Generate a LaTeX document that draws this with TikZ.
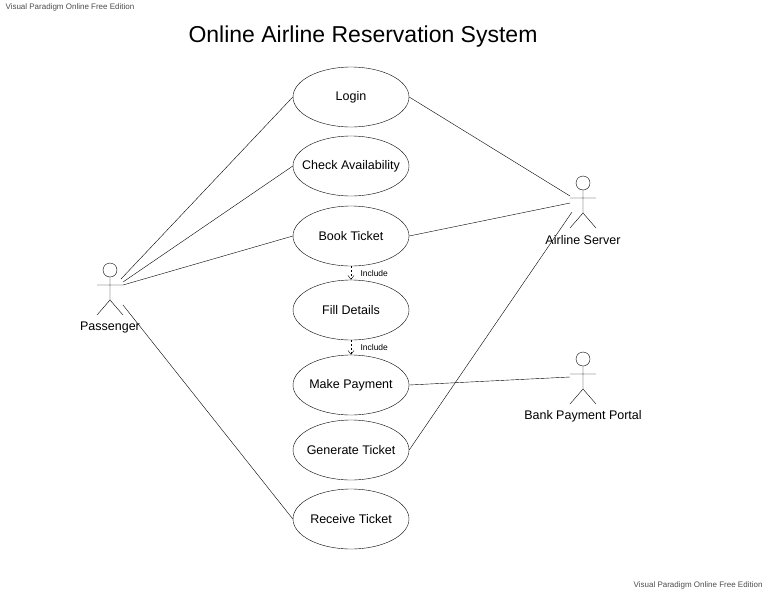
\documentclass[tikz,border=0pt]{standalone}
\usepackage{fontspec}
\setmainfont{Liberation Sans}
\usetikzlibrary{shapes.geometric,arrows.meta}
\begin{document}
\begin{tikzpicture}[x=1pt,y=-1pt,
 uc/.style={ellipse,draw,minimum width=116pt,minimum height=60pt,inner ysep=0pt,inner xsep=-20pt,font=\fontsize{12.5}{14}\selectfont},
 lbl/.style={font=\fontsize{12.5}{14}\selectfont},
 inc/.style={draw,dashed,dash pattern=on 2pt off 2pt,-{Straight Barb[length=4pt,width=6pt]}},
 incl/.style={font=\fontsize{8.5}{9}\selectfont,anchor=west}]
\useasboundingbox (0,0) rectangle (768,595);
\node[anchor=north west,font=\fontsize{8}{9}\selectfont,text=black!70] (wm1) at (2,0) {Visual Paradigm Online Free Edition};
\node[anchor=south east,font=\fontsize{8}{9}\selectfont,text=black!70] (wm2) at (766,593) {Visual Paradigm Online Free Edition};
\node[font=\fontsize{23}{26}\selectfont] (title) at (363,37) {Online Airline Reservation System};
\node[uc] (login) at (351,97) {Login};
\node[uc] (check) at (351,166) {Check Availability};
\node[uc] (book) at (351,236) {Book Ticket};
\node[uc] (fill) at (351,310) {Fill Details};
\node[uc] (pay) at (351,385) {Make Payment};
\node[uc] (gen) at (351,450) {Generate Ticket};
\node[uc] (recv) at (351,519) {Receive Ticket};
% actors
\foreach \n/\x/\y in {pass/110/270, air/583/183, bank/583/359}{
  \draw (\x,\y) circle (7);
  \draw (\x,\y+7) -- (\x,\y+30) (\x-13,\y+15) -- (\x+13,\y+15) (\x-13,\y+45) -- (\x,\y+30) -- (\x+13,\y+45);
  \coordinate (\n) at (\x+13,\y+15);
}
\node[lbl] (passl) at (110,327) {Passenger};
\node[lbl] (airl) at (583,240) {Airline Server};
\node[lbl] (bankl) at (583,416) {Bank Payment Portal};
\coordinate (p1) at (121,279);
\coordinate (p2) at (123,282);
\coordinate (p3) at (123,285);
\coordinate (p4) at (123,305);
\coordinate (a1) at (570,196);
\coordinate (a2) at (570,203);
\coordinate (a3) at (572,212);
\coordinate (b1) at (570,377);
\draw (p1) -- (login.west);
\draw (p2) -- (check.west);
\draw (p3) -- (book.west);
\draw (p4) -- (recv.west);
\draw (login.east) -- (a1);
\draw (book.east) -- (a2);
\draw (gen.east) -- (a3);
\draw (pay.east) -- (b1);
\draw[inc] (book.south) -- (fill.north);
\draw[inc] (fill.south) -- (pay.north);
\node[incl] (i1) at (357,273) {Include};
\node[incl] (i2) at (357,347) {Include};
\end{tikzpicture}
\end{document}
